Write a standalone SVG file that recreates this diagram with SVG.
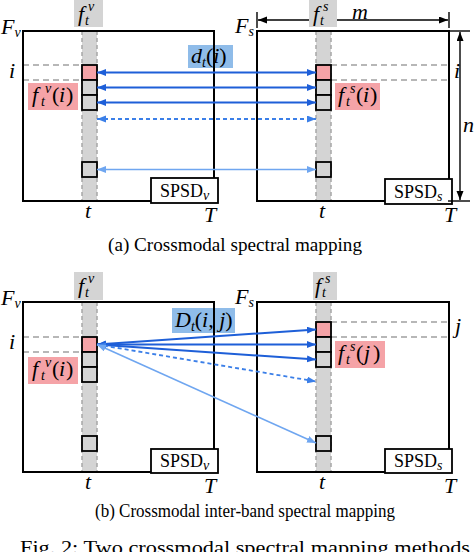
<svg xmlns="http://www.w3.org/2000/svg" width="474" height="552" viewBox="0 0 474 552">
<style>
.box{fill:none;stroke:#000;stroke-width:2}
.band{fill:#d4d4d4}
.bedge{stroke:#a6a6a6;stroke-width:1.5;stroke-dasharray:4 3}
.cell{stroke:#000;stroke-width:1.8}
.pk{fill:#f5a3a7}
.gy{fill:#d4d4d4}
.hd{stroke:#a0a0a0;stroke-width:1.5;stroke-dasharray:6 4}
.lab{fill:#fff;stroke:#000;stroke-width:1.8}
.dk{stroke:#1e5fd8;stroke-width:2;fill:none;marker-start:url(#ad);marker-end:url(#ad)}
.ds{stroke:#3b7fe8;stroke-width:1.8;fill:none;stroke-dasharray:4 3;marker-start:url(#am);marker-end:url(#am)}
.lt{stroke:#6fa6f0;stroke-width:1.6;fill:none;marker-start:url(#al);marker-end:url(#al)}
.dim{stroke:#000;stroke-width:1.4;fill:none}
text{font-family:"Liberation Serif","Times New Roman",serif;fill:#000}
.m{font-style:italic;font-size:22px}
.s{font-size:14px}
.sp{font-size:18px}
.cap{font-size:19px}
</style>
<defs>
<marker id="ad" markerUnits="userSpaceOnUse" markerWidth="10" markerHeight="8" refX="9" refY="3.5" orient="auto-start-reverse"><path d="M0,0 L9,3.5 L0,7 z" fill="#1e5fd8"/></marker>
<marker id="am" markerUnits="userSpaceOnUse" markerWidth="10" markerHeight="8" refX="9" refY="3.5" orient="auto-start-reverse"><path d="M0,0 L9,3.5 L0,7 z" fill="#3b7fe8"/></marker>
<marker id="al" markerUnits="userSpaceOnUse" markerWidth="10" markerHeight="8" refX="9" refY="3.5" orient="auto-start-reverse"><path d="M0,0 L9,3.5 L0,7 z" fill="#6fa6f0"/></marker>
<marker id="ak" markerUnits="userSpaceOnUse" markerWidth="10" markerHeight="8" refX="9" refY="3.5" orient="auto-start-reverse"><path d="M0,0 L9,3.5 L0,7 z" fill="#000"/></marker>
</defs>

<!-- ===== Panel (a) ===== -->
<g id="a-video">
<rect class="band" x="82" y="31" width="15" height="170"/>
<line class="bedge" x1="82" y1="31" x2="82" y2="201"/><line class="bedge" x1="97" y1="31" x2="97" y2="201"/>
<rect class="band" x="74" y="0" width="29" height="27"/>
<text class="m" x="78" y="21">f<tspan class="s" x="85" y="25">t</tspan><tspan class="s" x="88" y="11">v</tspan></text>
<line class="hd" x1="23" y1="65" x2="82" y2="65"/><line class="hd" x1="23" y1="80" x2="82" y2="80"/>
<text class="m" x="9" y="78">i</text>
<rect class="cell pk" x="82" y="65" width="15" height="15"/>
<rect class="cell gy" x="82" y="80" width="15" height="15"/>
<rect class="cell gy" x="82" y="95" width="15" height="15"/>
<rect class="cell gy" x="82" y="162" width="15" height="15"/>
<rect class="pk" x="28" y="83" width="50" height="27"/>
<text class="m" x="32" y="102">f<tspan class="s" x="41" y="106">t</tspan><tspan class="s" x="45" y="93">v</tspan><tspan font-style="normal" x="52" y="102">(</tspan><tspan x="59" y="102">i</tspan><tspan font-style="normal" x="66" y="102">)</tspan></text>
<rect class="box" x="23" y="31" width="191" height="170"/>
<rect class="lab" x="151" y="178" width="67" height="25"/>
<text class="sp" x="160" y="197">SPSD<tspan class="s" font-style="italic" font-size="15" dy="3">v</tspan></text>
<text class="m" x="1" y="34">F<tspan class="s" dy="3">v</tspan></text>
<text class="m" x="85" y="218">t</text>
<text class="m" x="204" y="222">T</text>
</g>

<g id="a-speech">
<rect class="band" x="316" y="31" width="15" height="170"/>
<line class="bedge" x1="316" y1="31" x2="316" y2="201"/><line class="bedge" x1="331" y1="31" x2="331" y2="201"/>
<line class="hd" x1="331" y1="65" x2="449" y2="65"/><line class="hd" x1="331" y1="80" x2="449" y2="80"/>
<text class="m" x="454" y="78">i</text>
<rect class="cell pk" x="316" y="65" width="15" height="15"/>
<rect class="cell gy" x="316" y="80" width="15" height="15"/>
<rect class="cell gy" x="316" y="95" width="15" height="15"/>
<rect class="cell gy" x="316" y="162" width="15" height="15"/>
<rect class="pk" x="335" y="83" width="45" height="27"/>
<text class="m" x="338" y="102">f<tspan class="s" x="346" y="106">t</tspan><tspan class="s" x="350" y="93">s</tspan><tspan font-style="normal" x="356" y="102">(</tspan><tspan x="363" y="102">i</tspan><tspan font-style="normal" x="370" y="102">)</tspan></text>
<rect class="box" x="257" y="31" width="192" height="170"/>
<rect class="lab" x="385" y="179" width="67" height="25"/>
<text class="sp" x="394" y="198">SPSD<tspan class="s" font-style="italic" font-size="15" dy="3">s</tspan></text>
<text class="m" x="235" y="33">F<tspan class="s" dy="3">s</tspan></text>
<text class="m" x="319" y="218">t</text>
<text class="m" x="444" y="222">T</text>
<line class="dim" x1="257" y1="12" x2="257" y2="28"/><line class="dim" x1="449" y1="12" x2="449" y2="28"/>
<line class="dim" x1="258" y1="20" x2="448" y2="20" marker-start="url(#ak)" marker-end="url(#ak)"/>
<rect class="band" x="309" y="0" width="28" height="27"/>
<text class="m" x="313" y="21">f<tspan class="s" x="320" y="25">t</tspan><tspan class="s" x="323" y="11">s</tspan></text>
<text class="m" x="352" y="18.5" font-size="19">m</text>
<line class="dim" x1="448" y1="31" x2="470" y2="31"/><line class="dim" x1="448" y1="201" x2="470" y2="201"/>
<line class="dim" x1="460" y1="32" x2="460" y2="200" marker-start="url(#ak)" marker-end="url(#ak)"/>
<text class="m" x="463" y="132">n</text>
</g>

<g id="a-label">
<rect fill="#8fbce9" x="188" y="45" width="45" height="23"/>
<text class="m" x="191" y="63">d<tspan class="s" dy="4">t</tspan><tspan font-style="normal" dy="-4">(</tspan>i<tspan font-style="normal">)</tspan></text>
<line stroke="#000" stroke-width="2" x1="214" y1="45" x2="214" y2="68"/>
</g>

<g id="a-connectors">
<line class="dk" x1="97" y1="72.5" x2="316" y2="72.5"/>
<line class="dk" x1="97" y1="87.5" x2="316" y2="87.5"/>
<line class="dk" x1="97" y1="102.5" x2="316" y2="102.5"/>
<line class="ds" x1="97" y1="119" x2="316" y2="119"/>
<line class="lt" x1="97" y1="169.5" x2="316" y2="169.5"/>
</g>

<text class="cap" x="108" y="251" textLength="254" lengthAdjust="spacingAndGlyphs">(a) Crossmodal spectral mapping</text>

<!-- ===== Panel (b) ===== -->
<g id="b-video">
<rect class="band" x="82" y="302" width="15" height="170"/>
<line class="bedge" x1="82" y1="302" x2="82" y2="472"/><line class="bedge" x1="97" y1="302" x2="97" y2="472"/>
<rect class="band" x="74" y="272" width="29" height="28"/>
<text class="m" x="78" y="293">f<tspan class="s" x="85" y="297">t</tspan><tspan class="s" x="88" y="283">v</tspan></text>
<line class="hd" x1="23" y1="337" x2="82" y2="337"/><line class="hd" x1="23" y1="352" x2="82" y2="352"/>
<text class="m" x="9" y="349">i</text>
<rect class="cell pk" x="82" y="337" width="15" height="15"/>
<rect class="cell gy" x="82" y="352" width="15" height="15"/>
<rect class="cell gy" x="82" y="367" width="15" height="15"/>
<rect class="cell gy" x="82" y="436" width="15" height="15"/>
<rect class="pk" x="28" y="357" width="50" height="27"/>
<text class="m" x="32" y="376">f<tspan class="s" x="41" y="380">t</tspan><tspan class="s" x="45" y="367">v</tspan><tspan font-style="normal" x="52" y="376">(</tspan><tspan x="59" y="376">i</tspan><tspan font-style="normal" x="66" y="376">)</tspan></text>
<rect class="box" x="23" y="302" width="191" height="170"/>
<rect class="lab" x="151" y="449" width="67" height="24"/>
<text class="sp" x="160" y="467">SPSD<tspan class="s" font-style="italic" font-size="15" dy="3">v</tspan></text>
<text class="m" x="1" y="305">F<tspan class="s" dy="3">v</tspan></text>
<text class="m" x="85" y="489">t</text>
<text class="m" x="204" y="493">T</text>
</g>

<g id="b-speech">
<rect class="band" x="316" y="302" width="15" height="170"/>
<line class="bedge" x1="316" y1="302" x2="316" y2="472"/><line class="bedge" x1="331" y1="302" x2="331" y2="472"/>
<rect class="band" x="313" y="272" width="24" height="28"/>
<text class="m" x="315" y="293">f<tspan class="s" x="322" y="297">t</tspan><tspan class="s" x="325" y="283">s</tspan></text>
<line class="hd" x1="331" y1="322" x2="449" y2="322"/><line class="hd" x1="331" y1="337" x2="449" y2="337"/>
<text class="m" x="455" y="333">j</text>
<rect class="cell pk" x="316" y="322" width="15" height="15"/>
<rect class="cell gy" x="316" y="337" width="15" height="15"/>
<rect class="cell gy" x="316" y="352" width="15" height="15"/>
<rect class="cell gy" x="316" y="436" width="15" height="15"/>
<rect class="pk" x="335" y="341" width="50" height="27"/>
<text class="m" x="338" y="360">f<tspan class="s" x="346" y="364">t</tspan><tspan class="s" x="350" y="351">s</tspan><tspan font-style="normal" x="356" y="360">(</tspan><tspan x="364" y="360">j</tspan><tspan font-style="normal" x="373" y="360">)</tspan></text>
<rect class="box" x="257" y="302" width="192" height="170"/>
<rect class="lab" x="385" y="449" width="67" height="24"/>
<text class="sp" x="394" y="467">SPSD<tspan class="s" font-style="italic" font-size="15" dy="3">s</tspan></text>
<text class="m" x="235" y="304">F<tspan class="s" dy="3">s</tspan></text>
<text class="m" x="319" y="489">t</text>
<text class="m" x="444" y="493">T</text>
</g>

<g id="b-label">
<rect fill="#8fbce9" x="172" y="308" width="63" height="25"/>
<text class="m" x="175" y="327">D<tspan class="s" dy="4">t</tspan><tspan font-style="normal" dy="-4">(</tspan>i<tspan font-style="normal">, </tspan>j<tspan font-style="normal">)</tspan></text>
<line stroke="#000" stroke-width="2" x1="214" y1="308" x2="214" y2="333"/>
</g>

<g id="b-connectors">
<line class="dk" x1="97" y1="344.5" x2="316" y2="329.5"/>
<line class="dk" x1="97" y1="344.5" x2="316" y2="344.5"/>
<line class="dk" x1="97" y1="344.5" x2="316" y2="359.5"/>
<line class="ds" x1="97" y1="344.5" x2="316" y2="381.5"/>
<line class="lt" x1="97" y1="344.5" x2="316" y2="443"/>
</g>

<text class="cap" x="95" y="517" textLength="300" lengthAdjust="spacingAndGlyphs">(b) Crossmodal inter-band spectral mapping</text>
<text x="20" y="554" font-size="18" textLength="450" lengthAdjust="spacingAndGlyphs">Fig. 2: Two crossmodal spectral mapping methods</text>
</svg>
